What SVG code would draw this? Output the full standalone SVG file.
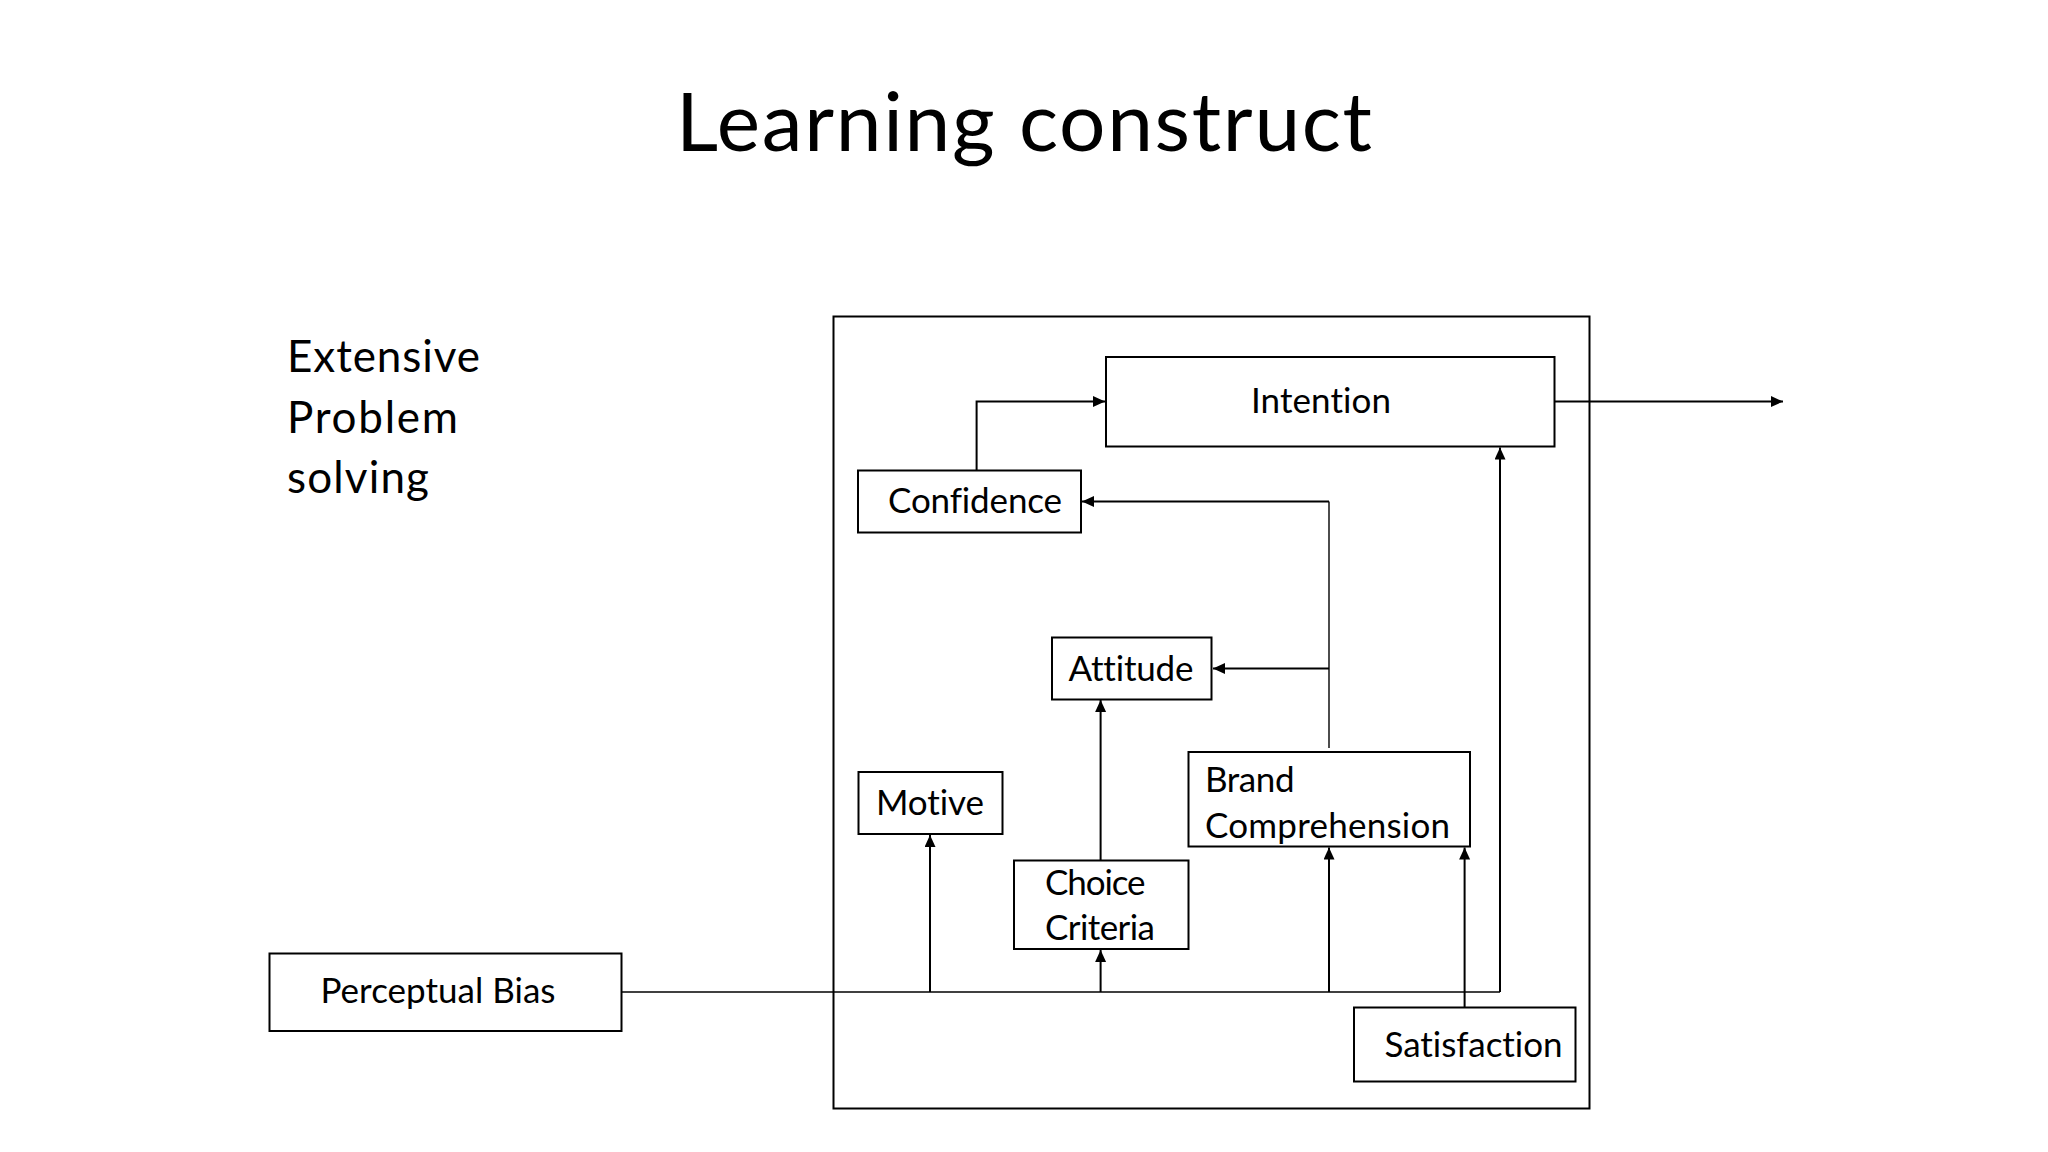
<svg xmlns="http://www.w3.org/2000/svg" width="2048" height="1152" viewBox="0 0 2048 1152">
<defs>
<marker id="arr" markerUnits="userSpaceOnUse" markerWidth="13" markerHeight="12" refX="12" refY="5.5" orient="auto">
<path d="M0,0 L12,5.5 L0,11 z" fill="#000"/>
</marker>
<style>
text{font-variant-ligatures:none}
.box{fill:#fff;stroke:#000;stroke-width:2}
.t{font-family:Lato,"Open Sans","Liberation Sans",sans-serif;font-size:35px;fill:#000}
.big{font-family:Lato,"Open Sans","Liberation Sans",sans-serif;font-size:44px;fill:#000}
.title{font-family:Lato,"Open Sans","Liberation Sans",sans-serif;font-weight:400;font-size:82px;fill:#000}
.c{fill:none;stroke:#000;stroke-width:1.4}
.ca{fill:none;stroke:#000;stroke-width:2;marker-end:url(#arr)}
</style>
</defs>
<rect width="2048" height="1152" fill="#fff"/>
<text class="title" x="676" y="151" textLength="696">Learning construct</text>
<g id="label-extensive">
<text class="big" x="287" y="372" textLength="193">Extensive</text>
<text class="big" x="287" y="433" textLength="171">Problem</text>
<text class="big" x="287" y="493" textLength="142">solving</text>
</g>
<rect id="frame" x="833.5" y="316.5" width="756" height="792" fill="none" stroke="#000" stroke-width="2"/>
<g id="connectors">
<path class="ca" d="M976.6,470 V401.5 H1105"/>
<path class="ca" d="M1554,401.5 H1783"/>
<path class="c" d="M1329,748 V501.5"/>
<path class="ca" d="M1329,501.5 H1082"/>
<path class="ca" d="M1329,668.5 H1213"/>
<path class="ca" d="M1100.6,860 V700"/>
<path class="c" d="M622,992 H1500"/>
<path class="ca" d="M1500,992 V447.5"/>
<path class="ca" d="M930,992 V835"/>
<path class="ca" d="M1100.6,992 V950"/>
<path class="ca" d="M1329,992 V847.5"/>
<path class="ca" d="M1464.6,1007 V847.5"/>
</g>
<g id="intention">
<rect class="box" x="1106" y="357" width="448.5" height="89.5"/>
<text class="t" x="1251" y="413" textLength="140">Intention</text>
</g>
<g id="confidence">
<rect class="box" x="858" y="470.5" width="223" height="62"/>
<text class="t" x="888" y="513" textLength="174">Confidence</text>
</g>
<g id="attitude">
<rect class="box" x="1052" y="637.5" width="159.5" height="62"/>
<text class="t" x="1068.5" y="681" textLength="125">Attitude</text>
</g>
<g id="brand-comprehension">
<rect class="box" x="1188.5" y="752" width="281.5" height="94.5"/>
<text class="t" x="1205" y="792" textLength="89.5">Brand</text>
<text class="t" x="1205" y="837.5" textLength="245">Comprehension</text>
</g>
<g id="motive">
<rect class="box" x="858.5" y="772" width="144" height="62"/>
<text class="t" x="876" y="815" textLength="108">Motive</text>
</g>
<g id="choice-criteria">
<rect class="box" x="1014" y="860.5" width="174.5" height="88.5"/>
<text class="t" x="1045" y="895" textLength="100.5">Choice</text>
<text class="t" x="1045" y="940" textLength="110">Criteria</text>
</g>
<g id="perceptual-bias">
<rect class="box" x="269.5" y="953.5" width="352" height="77.5"/>
<text class="t" x="320.5" y="1003" textLength="235">Perceptual Bias</text>
</g>
<g id="satisfaction">
<rect class="box" x="1354" y="1007.5" width="221.5" height="74"/>
<text class="t" x="1384.5" y="1057" textLength="178">Satisfaction</text>
</g>
</svg>
